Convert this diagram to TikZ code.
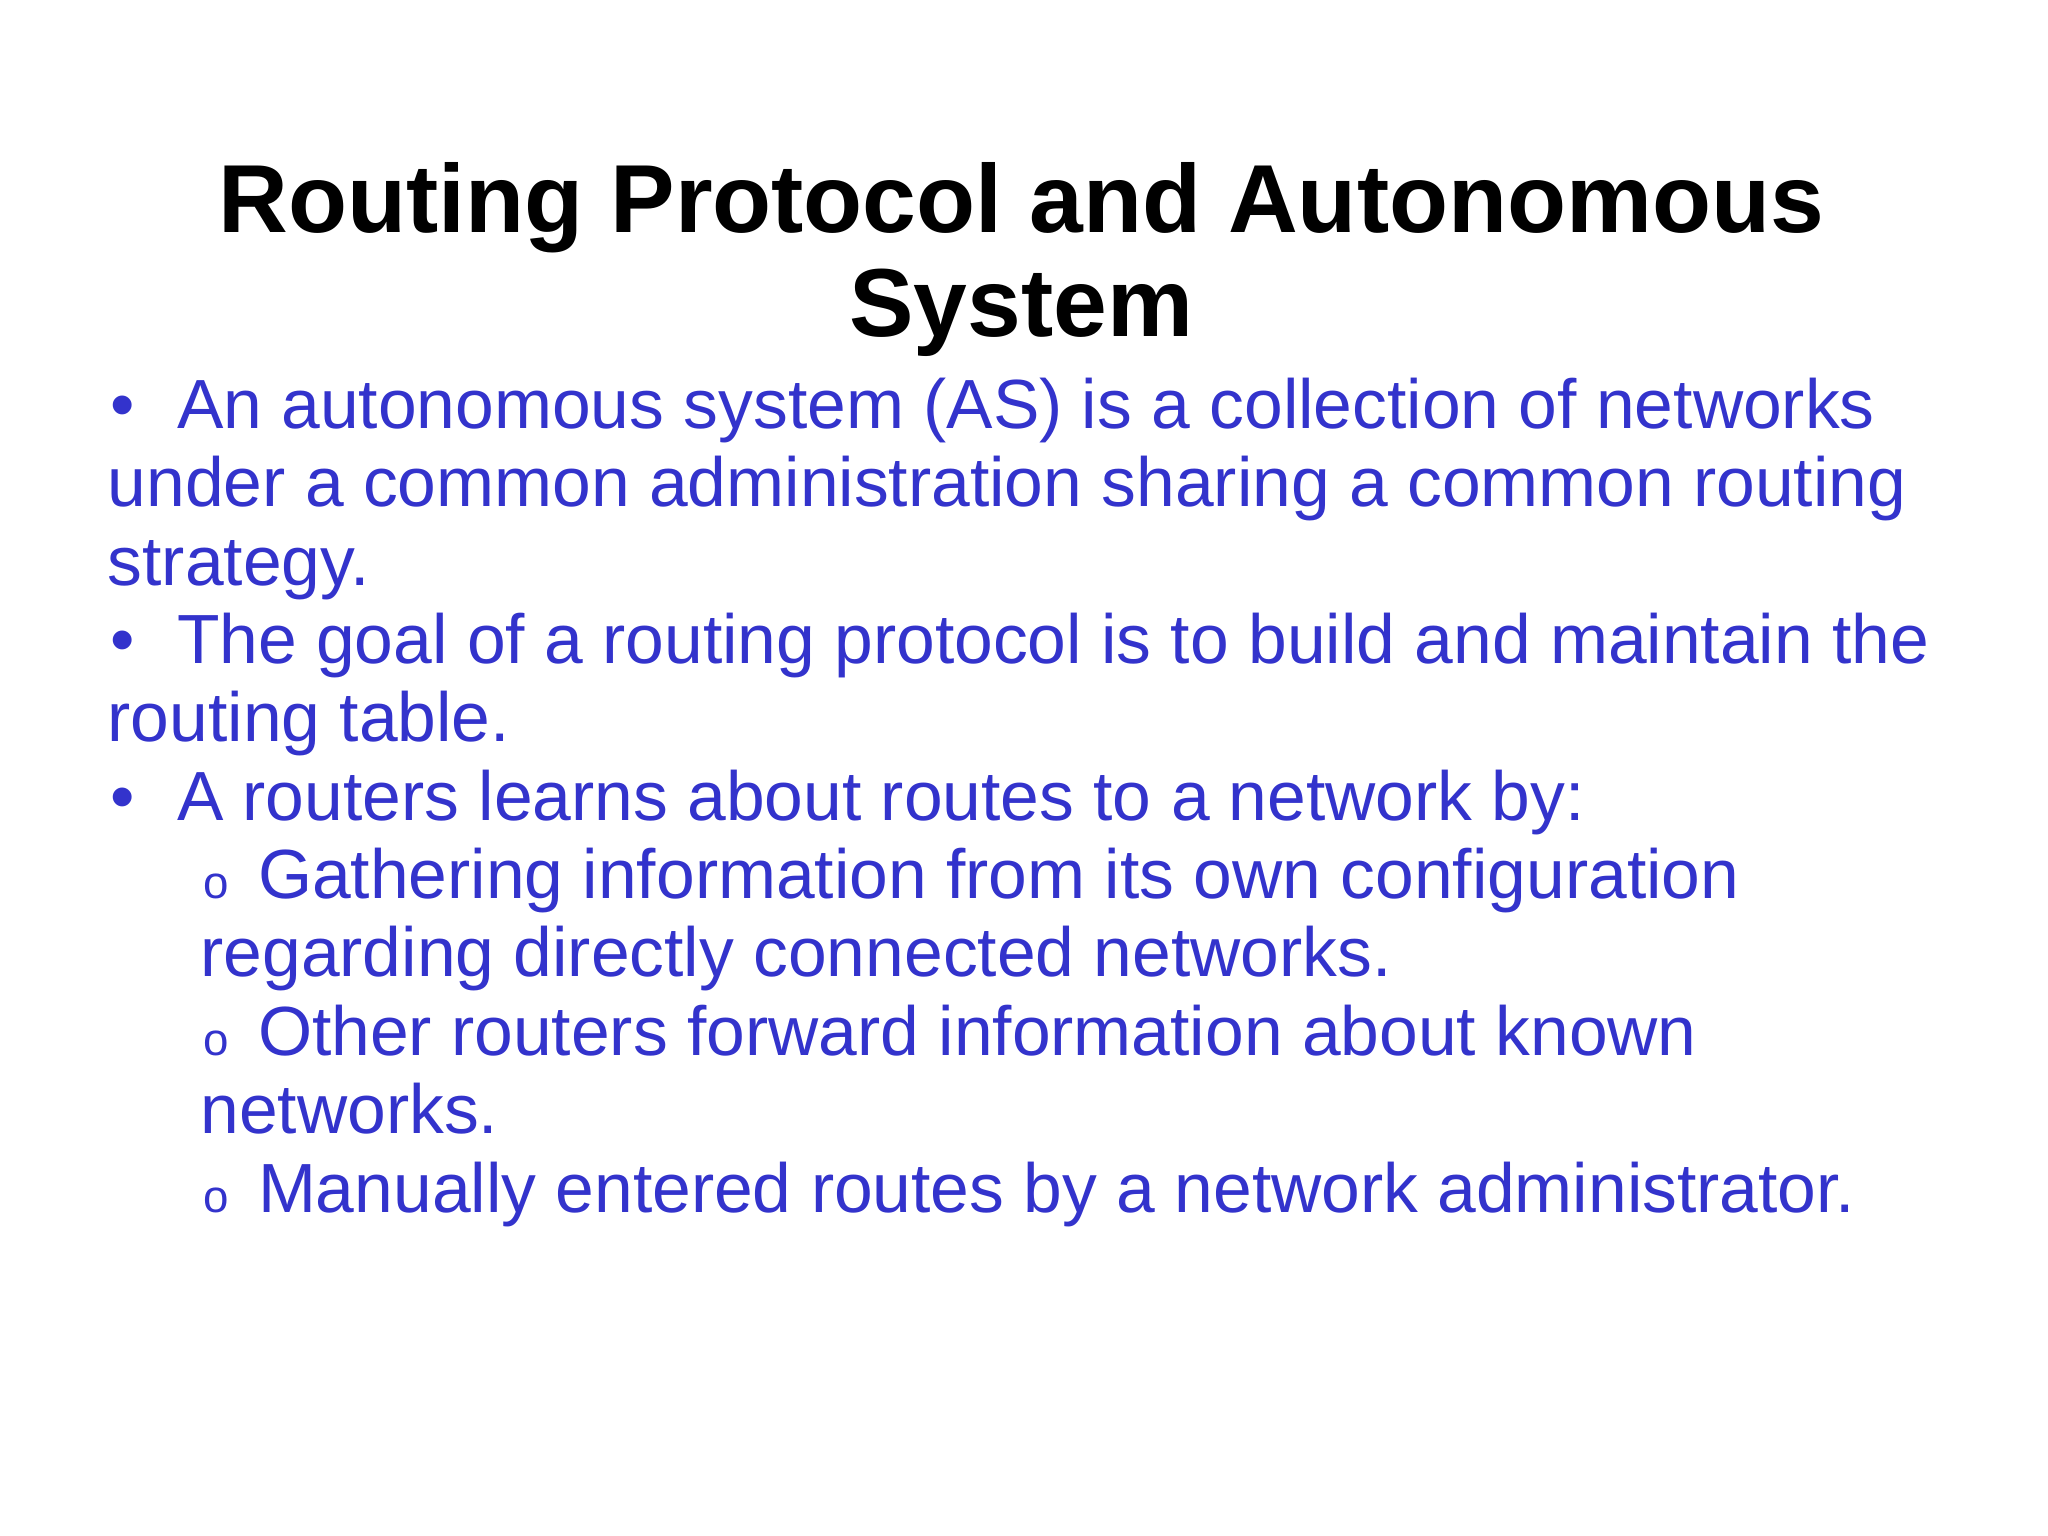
\documentclass[tikz,border=0pt]{standalone}
\usepackage{fontspec}
\setmainfont{Liberation Sans}
\definecolor{bodyblue}{HTML}{3333CC}
\begin{document}
\begin{tikzpicture}[x=0.01306cm,y=-0.01306cm,
  title/.style={font=\fontsize{27.5}{30}\selectfont\bfseries,anchor=base,inner sep=0},
  body/.style={font=\fontsize{19.8}{22}\selectfont,text=bodyblue,anchor=base west,inner sep=0}]
\useasboundingbox[fill=white] (0,0) rectangle (1568,1176);
\node[title] (t1) at (782,178) {Routing Protocol and Autonomous};
\node[title] (t2) at (782,258) {System};
\node[body] (b1) at (84,328) {•};
\node[body] (l1) at (135,328) {An autonomous system (AS) is a collection of networks};
\node[body] (l2) at (82,388) {under a common administration sharing a common routing};
\node[body] (l3) at (82,448) {strategy.};
\node[body] (b2) at (84,508) {•};
\node[body] (l4) at (135,508) {The goal of a routing protocol is to build and maintain the};
\node[body] (l5) at (82,568) {routing table.};
\node[body] (b3) at (84,628) {•};
\node[body] (l6) at (135,628) {A routers learns about routes to a network by:};
\node[body,font=\fontsize{13}{15}\selectfont] (s1) at (155,688) {o};
\node[body] (l7) at (197,688) {Gathering information from its own configuration};
\node[body] (l8) at (153,748) {regarding directly connected networks.};
\node[body,font=\fontsize{13}{15}\selectfont] (s2) at (155,808) {o};
\node[body] (l9) at (197,808) {Other routers forward information about known};
\node[body] (l10) at (153,868) {networks.};
\node[body,font=\fontsize{13}{15}\selectfont] (s3) at (155,928) {o};
\node[body] (l11) at (197,928) {Manually entered routes by a network administrator.};
\end{tikzpicture}
\end{document}
